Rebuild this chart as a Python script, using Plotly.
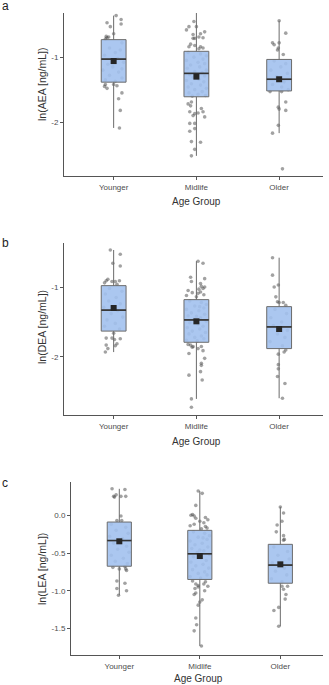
import plotly.graph_objects as go

W, H = 329, 685

groups = ["Younger", "Midlife", "Older"]
group_pos = [1, 2, 3]

# ---------------- summary statistics ----------------
aea_q1 = [-1.385, -1.61, -1.52]
aea_med = [-1.03, -1.25, -1.34]
aea_q3 = [-0.73, -0.91, -1.035]
aea_lo = [-2.09, -2.52, -2.17]
aea_hi = [-0.36, -0.29, -0.44]
aea_mean = [-1.06, -1.30, -1.34]

dea_q1 = [-1.63, -1.79, -1.88]
dea_med = [-1.33, -1.47, -1.57]
dea_q3 = [-0.98, -1.18, -1.28]
dea_lo = [-1.93, -2.60, -2.59]
dea_hi = [-0.47, -0.63, -0.58]
dea_mean = [-1.30, -1.49, -1.60]

lea_q1 = [-0.675, -0.85, -0.90]
lea_med = [-0.335, -0.51, -0.66]
lea_q3 = [-0.09, -0.20, -0.385]
lea_lo = [-1.06, -1.73, -1.47]
lea_hi = [0.35, 0.32, 0.11]
lea_mean = [-0.345, -0.54, -0.65]

aea_younger = [-0.36, -0.47, -0.42, -0.49, -0.53, -0.64, -0.68, -0.70, -0.69, -0.72,
               -0.78, -0.86, -0.89, -0.97, -1.02, -1.08, -1.11, -1.15, -1.20, -1.23, -1.28, -1.32, -1.35, -1.37, -0.93, -1.18,
               -1.42, -1.45, -1.48, -1.44, -1.42, -1.55, -1.64, -1.82, -2.09]
aea_younger_j = [0.03, -0.08, 0.09, 0.09, -0.04, 0.0, -0.09, -0.08, -0.06, -0.10,
                 0.10, -0.05, 0.08, -0.11, 0.05, 0.12, -0.07, -0.01, -0.13, 0.06, -0.05, 0.10, -0.10, 0.02, 0.02, 0.10,
                 -0.10, -0.11, -0.08, 0.04, 0.0, 0.10, 0.06, 0.08, 0.07]
aea_midlife = [-0.29, -0.45, -0.53, -0.53, -0.58, -0.65, -0.64, -0.69, -0.71, -0.70, -0.71, -0.80, -0.84, -0.82, -0.84, -0.86, -0.87, -0.61,
               -0.93, -0.95, -0.98, -1.00, -1.03, -1.05, -1.08, -1.10, -1.12, -1.15, -1.17, -1.20, -1.22, -1.24, -1.27,
               -1.29, -1.31, -1.34, -1.36, -1.38, -1.41, -1.43, -1.46, -1.48, -1.50, -1.53, -1.55, -1.57, -1.59, -1.60,
               -1.69, -1.75, -1.84, -1.87, -1.86, -1.79, -1.84, -1.92, -2.02, -2.02, -2.10, -2.14, -2.30, -2.31, -2.42, -2.52, -1.72, -1.90]
aea_midlife_j = [0.06, -0.03, -0.09, 0.0, -0.12, -0.04, 0.05, 0.03, -0.04, 0.08, -0.02, -0.07, -0.09, -0.02, 0.05, 0.08, 0.03, 0.10,
                 -0.10, 0.05, 0.12, -0.03, 0.08, -0.12, 0.02, 0.10, -0.07, 0.04, -0.11, 0.12, -0.02, 0.07, -0.08,
                 0.10, -0.04, 0.03, -0.12, 0.09, -0.06, 0.05, -0.10, 0.12, -0.02, 0.07, -0.09, 0.02, 0.11, -0.05,
                 -0.06, -0.07, -0.08, -0.02, 0.02, 0.06, 0.08, 0.10, -0.08, -0.02, -0.02, -0.08, -0.06, 0.05, -0.02, -0.06, -0.10, -0.04]
aea_older = [-0.44, -0.63, -0.78, -0.81, -0.78, -0.86, -0.89, -0.96,
             -1.06, -1.10, -1.15, -1.20, -1.25, -1.30, -1.38, -1.42, -1.46, -1.50,
             -1.53, -1.53, -1.77, -1.80, -1.69, -1.82, -2.05, -2.17, -2.72]
aea_older_j = [0.0, 0.08, -0.08, -0.06, 0.0, -0.01, -0.02, 0.05,
               -0.06, 0.08, 0.02, -0.10, 0.10, -0.03, 0.06, -0.08, 0.03, 0.11,
               -0.11, 0.03, -0.01, 0.0, 0.08, 0.08, -0.01, -0.08, 0.04]

dea_younger = [-0.47, -0.53, -0.66, -0.70, -0.91, -0.89, -0.92, -0.92, -0.91, -0.94, -0.96,
               -1.02, -1.06, -1.10, -1.15, -1.20, -1.24, -1.29, -1.34, -1.38, -1.43, -1.47, -1.52, -1.56, -1.60,
               -1.73, -1.73, -1.75, -1.74, -1.83, -1.81, -1.84, -1.88, -1.93, -1.66]
dea_younger_j = [-0.04, 0.08, -0.01, 0.08, -0.09, -0.07, -0.02, 0.02, 0.07, -0.11, 0.04,
                 -0.05, 0.10, -0.10, 0.03, -0.06, 0.08, -0.12, 0.05, -0.03, 0.11, -0.08, 0.02, -0.11, 0.07,
                 -0.09, -0.02, 0.01, 0.08, -0.09, 0.04, 0.02, -0.07, -0.10, 0.0]
dea_midlife = [-0.63, -0.66, -0.86, -0.92, -0.88, -0.95, -0.99, -1.03, -1.02, -1.08, -1.09, -1.07, -1.11, -1.14, -1.00, -1.05, -1.12,
               -1.20, -1.22, -1.25, -1.27, -1.30, -1.32, -1.34, -1.37, -1.39, -1.41, -1.44, -1.46, -1.49, -1.51,
               -1.53, -1.56, -1.58, -1.60, -1.63, -1.65, -1.67, -1.70, -1.72, -1.74, -1.76, -1.77, -1.42, -1.28,
               -1.83, -1.86, -1.85, -1.85, -1.95, -1.91, -2.02, -2.09, -2.12, -2.26, -2.21, -2.33, -2.60, -2.72, -1.82, -1.88]
dea_midlife_j = [0.02, 0.08, -0.07, -0.06, 0.10, 0.05, 0.06, 0.03, 0.08, -0.05, 0.02, 0.05, 0.09, 0.0, 0.10, -0.10, -0.12,
                 -0.08, 0.06, 0.12, -0.02, 0.09, -0.12, 0.03, -0.06, 0.10, -0.10, 0.05, -0.03, 0.12, -0.08,
                 0.02, 0.08, -0.11, 0.04, -0.05, 0.11, -0.09, 0.06, -0.02, 0.09, -0.12, 0.01, 0.0, 0.04,
                 -0.07, -0.05, -0.04, 0.06, -0.09, 0.08, 0.10, 0.06, 0.06, -0.09, 0.05, 0.07, -0.06, -0.06, -0.10, 0.02]
dea_older = [-0.58, -0.83, -0.97, -1.00, -1.14, -1.21, -1.22, -1.22, -1.26,
             -1.32, -1.38, -1.44, -1.50, -1.55, -1.62, -1.67, -1.72, -1.78, -1.84,
             -1.96, -1.93, -1.90, -2.11, -2.17, -2.28, -2.38, -2.59]
dea_older_j = [-0.08, -0.08, -0.01, -0.06, -0.04, -0.02, 0.0, 0.05, 0.08,
               -0.05, 0.09, -0.10, 0.03, -0.07, 0.10, -0.02, 0.07, -0.11, 0.04,
               -0.01, 0.06, 0.08, -0.01, -0.01, -0.02, 0.07, 0.04]

lea_younger = [0.35, 0.34, 0.27, 0.25, 0.24, 0.25, 0.25, -0.01, -0.07, -0.07,
               -0.12, -0.16, -0.20, -0.24, -0.28, -0.31, -0.37, -0.41, -0.45, -0.49, -0.53, -0.57, -0.61, -0.64,
               -0.69, -0.68, -0.71, -0.73, -0.71, -0.87, -0.90, -0.97, -1.00, -1.06]
lea_younger_j = [-0.09, 0.07, -0.04, -0.07, -0.06, 0.02, 0.08, 0.02, -0.03, 0.03,
                 -0.10, 0.08, -0.04, 0.11, -0.12, 0.04, -0.07, 0.09, -0.02, 0.12, -0.10, 0.05, -0.05, 0.10,
                 -0.08, 0.07, 0.08, 0.09, 0.0, -0.03, 0.07, -0.03, 0.09, -0.01]
lea_midlife = [0.32, 0.29, 0.13, 0.01, -0.01, -0.04, -0.03, -0.08, -0.10, -0.12, -0.15, -0.18, -0.17, 0.0, -0.06, -0.14,
               -0.22, -0.24, -0.27, -0.29, -0.32, -0.34, -0.37, -0.39, -0.42, -0.44, -0.47, -0.49, -0.52, -0.55,
               -0.57, -0.60, -0.62, -0.65, -0.67, -0.70, -0.72, -0.75, -0.77, -0.79, -0.81, -0.83, -0.46, -0.30,
               -0.87, -0.91, -0.93, -0.91, -0.88, -0.97, -0.95, -1.03, -1.05, -1.12, -1.15, -1.19, -1.36, -1.45, -1.53, -1.73, -0.94, -1.00]
lea_midlife_j = [-0.02, 0.03, -0.05, -0.09, -0.07, -0.05, 0.07, 0.0, 0.05, -0.07, 0.07, 0.02, 0.09, -0.11, 0.10, -0.12,
                 -0.08, 0.06, 0.12, -0.02, 0.09, -0.12, 0.03, -0.06, 0.10, -0.10, 0.05, -0.03, 0.12, -0.08,
                 0.02, 0.08, -0.11, 0.04, -0.05, 0.11, -0.09, 0.06, -0.02, 0.09, -0.12, 0.01, 0.0, 0.04,
                 -0.09, -0.05, -0.02, 0.05, 0.07, -0.06, -0.02, -0.05, -0.07, 0.03, 0.0, -0.02, -0.05, -0.04, -0.07, 0.02, 0.10, 0.06]
lea_older = [0.11, 0.03, -0.13, -0.08, -0.22, -0.27, -0.32, -0.33,
             -0.42, -0.48, -0.53, -0.58, -0.63, -0.70, -0.74, -0.79, -0.84, -0.88,
             -0.94, -0.94, -0.98, -1.05, -1.11, -1.22, -1.26, -1.47]
lea_older_j = [0.0, 0.04, -0.04, 0.02, -0.05, 0.04, 0.05, 0.04,
               -0.08, 0.09, -0.03, 0.11, -0.10, 0.05, -0.06, 0.08, -0.11, 0.02,
               0.02, 0.09, 0.04, 0.07, 0.06, -0.02, -0.08, -0.02]

y_titles = ["ln(AEA [ng/mL])", "ln(DEA [ng/mL])", "ln(LEA [ng/mL])"]
x_title = "Age Group"
panel_letters = ["a", "b", "c"]

# ---------------- styling ----------------
FONT = "Liberation Sans, Arial, sans-serif"
POINT_COLOR = "rgba(70,70,70,0.5)"
BOX_FILL = "rgba(162,193,238,0.9)"
BOX_LINE = "#6b6b6b"
MED_COLOR = "#333333"
MEAN_COLOR = "#262626"
AXIS_COLOR = "#555555"
TICK_FONT_COLOR = "#4d4d4d"
BOX_WIDTH = 0.3

panels = [
    dict(stats=(aea_q1, aea_med, aea_q3, aea_lo, aea_hi, aea_mean),
         pts=[(aea_younger, aea_younger_j), (aea_midlife, aea_midlife_j), (aea_older, aea_older_j)],
         yrange=[-2.83, -0.32], tickvals=[-2, -1], ticktext=["-2", "-1"],
         xdom=[64 / W, 323 / W], ydom=[1 - 176 / H, 1 - 13 / H],
         ytitle_pos=(42, 84), xtitle_pos=(196, 201), letter_pos=(0, -3)),
    dict(stats=(dea_q1, dea_med, dea_q3, dea_lo, dea_hi, dea_mean),
         pts=[(dea_younger, dea_younger_j), (dea_midlife, dea_midlife_j), (dea_older, dea_older_j)],
         yrange=[-2.83, -0.37], tickvals=[-2, -1], ticktext=["-2", "-1"],
         xdom=[64 / W, 323 / W], ydom=[1 - 415 / H, 1 - 243 / H],
         ytitle_pos=(42, 327), xtitle_pos=(196, 441), letter_pos=(0, 234)),
    dict(stats=(lea_q1, lea_med, lea_q3, lea_lo, lea_hi, lea_mean),
         pts=[(lea_younger, lea_younger_j), (lea_midlife, lea_midlife_j), (lea_older, lea_older_j)],
         yrange=[-1.85, 0.44], tickvals=[0.0, -0.5, -1.0, -1.5], ticktext=["0.0", "-0.5", "-1.0", "-1.5"],
         xdom=[71 / W, 323 / W], ydom=[1 - 655 / H, 1 - 482 / H],
         ytitle_pos=(42, 569), xtitle_pos=(198, 678), letter_pos=(0, 474)),
]

fig = go.Figure()
layout = dict(width=W, height=H, margin=dict(l=0, r=0, t=0, b=0),
              paper_bgcolor="white", plot_bgcolor="white", showlegend=False,
              font=dict(family=FONT, color="#333333"))
annotations = []

XRANGE = [0.4, 3.53]

for i, p in enumerate(panels):
    n = i + 1
    ov = i + 4  # overlay axis index
    xa, ya = ("x" if n == 1 else f"x{n}"), ("y" if n == 1 else f"y{n}")
    xo, yo = f"x{ov}", f"y{ov}"
    q1, med, q3, lo, hi, mean = p["stats"]

    # jittered points (underneath the boxes)
    for gpos, (vals, jit) in zip(group_pos, p["pts"]):
        fig.add_trace(go.Scatter(
            x=[gpos + j for j in jit], y=vals, mode="markers",
            marker=dict(size=3.6, color=POINT_COLOR, line=dict(width=0)),
            xaxis=xa, yaxis=ya, hoverinfo="skip"))

    # boxes on overlay axes (drawn above the points)
    fig.add_trace(go.Box(
        x=group_pos, q1=q1, median=med, q3=q3, lowerfence=lo, upperfence=hi,
        width=BOX_WIDTH, whiskerwidth=0, fillcolor=BOX_FILL,
        line=dict(color=BOX_LINE, width=1), boxpoints=False,
        xaxis=xo, yaxis=yo))
    # median lines
    for gpos, m in zip(group_pos, med):
        fig.add_trace(go.Scatter(
            x=[gpos - BOX_WIDTH / 2, gpos + BOX_WIDTH / 2], y=[m, m], mode="lines",
            line=dict(color=MED_COLOR, width=1.6), xaxis=xo, yaxis=yo, hoverinfo="skip"))
    # means
    fig.add_trace(go.Scatter(
        x=group_pos, y=mean, mode="markers",
        marker=dict(symbol="square", size=6, color=MEAN_COLOR, line=dict(width=0)),
        xaxis=xo, yaxis=yo, hoverinfo="skip"))

    xkey = "xaxis" if n == 1 else f"xaxis{n}"
    ykey = "yaxis" if n == 1 else f"yaxis{n}"
    layout[xkey] = dict(domain=p["xdom"], range=XRANGE, anchor=ya,
                        tickvals=group_pos, ticktext=groups,
                        ticks="outside", ticklen=3, tickcolor=AXIS_COLOR, tickwidth=1,
                        showline=True, linecolor=AXIS_COLOR, linewidth=1,
                        showgrid=False, zeroline=False,
                        tickfont=dict(size=8, color=TICK_FONT_COLOR, family=FONT))
    layout[ykey] = dict(domain=p["ydom"], range=p["yrange"], anchor=xa,
                        tickvals=p["tickvals"], ticktext=p["ticktext"],
                        ticks="outside", ticklen=3, tickcolor=AXIS_COLOR, tickwidth=1,
                        showline=True, linecolor=AXIS_COLOR, linewidth=1,
                        showgrid=False, zeroline=False,
                        tickfont=dict(size=8, color=TICK_FONT_COLOR, family=FONT))
    layout[f"xaxis{ov}"] = dict(overlaying=xa, range=XRANGE, visible=False, anchor=yo)
    layout[f"yaxis{ov}"] = dict(overlaying=ya, range=p["yrange"], visible=False, anchor=xo)

    tx, ty = p["ytitle_pos"]
    annotations.append(dict(text=y_titles[i], x=tx / W, y=1 - ty / H, xref="paper", yref="paper",
                            textangle=-90, showarrow=False, xanchor="center", yanchor="middle",
                            font=dict(size=10.5, color="#333333", family=FONT)))
    gx, gy = p["xtitle_pos"]
    annotations.append(dict(text=x_title, x=gx / W, y=1 - gy / H, xref="paper", yref="paper",
                            showarrow=False, xanchor="center", yanchor="middle",
                            font=dict(size=10, color="#333333", family=FONT)))
    lx, ly = p["letter_pos"]
    annotations.append(dict(text=panel_letters[i], x=lx / W, y=1 - ly / H, xref="paper", yref="paper",
                            showarrow=False, xanchor="left", yanchor="top",
                            font=dict(size=12, color="#222222", family=FONT)))

layout["annotations"] = annotations
fig.update_layout(**layout)
fig.write_html("out.html", config={"displayModeBar": False},
               post_script="document.body.style.margin='0';document.body.style.padding='0';")
